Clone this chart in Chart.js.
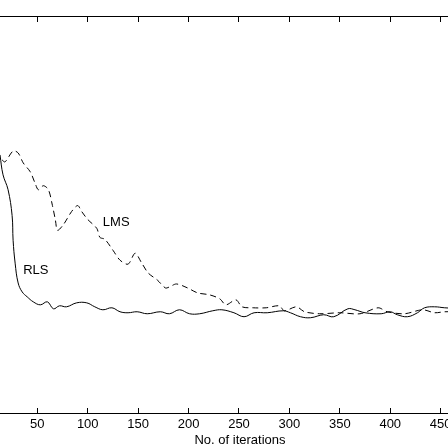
<!DOCTYPE html>
<html>
<head>
<meta charset="utf-8">
<script src="https://cdn.jsdelivr.net/npm/chart.js@4.4.0/dist/chart.umd.min.js"></script>
<style>
    html, body { margin: 0; padding: 0; background: #fff; overflow: hidden; }
    #wrap { width: 448px; height: 448px; overflow: hidden; }
</style>
</head>
<body>
<div id="wrap"><canvas id="chart" width="480" height="448"></canvas></div>
<script>
// ===================================
// Learning curves: RLS vs LMS
// ===================================

const tickVals = [50, 100, 150, 200, 250, 300, 350, 400, 450];

// RLS (solid) - iteration and error value
const rlsIter = [13, 16, 21, 25, 26, 28, 31, 35, 40, 46, 53, 60, 66, 72, 79, 89, 99, 107, 115, 124,
    132, 140, 149, 159, 172, 181, 191, 201, 211, 224, 233, 245, 255, 265, 278, 294, 301, 311, 321, 334,
    344, 358, 365, 375, 391, 400, 407, 417, 427, 434, 444, 454, 490];
const rlsMse = [26.0, 24.0, 22.5, 19.9, 17.4, 15.1, 13.1, 12.2, 11.7, 11.2, 10.9, 11.2, 10.5, 10.8, 10.7, 11.1, 11.1, 10.7, 10.4, 10.6,
    10.2, 10.1, 10.2, 10.0, 10.2, 10.0, 10.4, 10.0, 10.0, 10.3, 10.4, 10.1, 9.7, 10.1, 10.1, 10.3, 10.1, 9.7, 9.6, 9.9,
    9.7, 10.5, 10.4, 10.1, 10.0, 10.2, 9.9, 9.7, 10.1, 10.6, 10.7, 10.6, 10.4];

// LMS (dashed)
const lmsIter = [15, 18, 26, 31, 36, 43, 48, 51, 56, 61, 65, 68, 70, 76, 84, 90, 94, 100, 109, 112,
    117, 125, 132, 140, 147, 153, 160, 169, 177, 181, 188, 199, 209, 221, 231, 237, 247, 253, 264, 277,
    290, 295, 307, 315, 330, 350, 370, 388, 397, 414, 432, 444, 454, 490];
const lmsMse = [25.5, 25.3, 26.4, 26.2, 25.2, 24.3, 23.1, 22.5, 22.9, 22.5, 20.9, 19.4, 18.4, 19.0, 20.3, 20.9, 20.3, 19.5, 18.6, 17.7,
    17.5, 16.4, 15.4, 15.0, 16.1, 15.2, 14.1, 13.4, 12.6, 12.7, 13.0, 12.6, 12.1, 11.9, 11.5, 10.9, 11.4, 10.7, 10.6, 10.6,
    10.8, 10.3, 10.7, 10.2, 10.0, 10.1, 10.0, 10.6, 10.2, 10.0, 10.4, 10.1, 10.2, 10.2];

// curve labels: [text, iteration, value]
const curveLabels = [['LMS', 115, 19.2], ['RLS', 36, 14.4]];

const toPoints = (xs, ys) => xs.map((x, i) => ({ x: x, y: ys[i] }));

const FONT = 'Liberation Sans, Arial, Helvetica, sans-serif';

const labelPlugin = {
    id: 'curveLabels',
    afterDatasetsDraw(chart) {
        const ctx = chart.ctx;
        const xs = chart.scales.x;
        const ys = chart.scales.y;
        ctx.save();
        ctx.fillStyle = '#000';
        ctx.font = '13px ' + FONT;
        ctx.textAlign = 'left';
        ctx.textBaseline = 'middle';
        curveLabels.forEach(([txt, it, v]) => {
            ctx.fillText(txt, xs.getPixelForValue(it), ys.getPixelForValue(v));
        });
        ctx.restore();
    }
};

const keepTicks = scale => {
    scale.ticks = tickVals.map(v => ({ value: v }));
};

new Chart(document.getElementById('chart'), {
    type: 'line',
    data: {
        datasets: [{
            label: 'RLS',
            data: toPoints(rlsIter, rlsMse),
            borderColor: '#000',
            borderWidth: 1,
            pointRadius: 0,
            tension: 0.4,
            fill: false
        }, {
            label: 'LMS',
            data: toPoints(lmsIter, lmsMse),
            borderColor: '#000',
            borderWidth: 1,
            borderDash: [6, 4],
            pointRadius: 0,
            tension: 0.3,
            fill: false
        }]
    },
    options: {
        responsive: false,
        animation: false,
        devicePixelRatio: 1,
        layout: { padding: { top: 16, left: 0, right: 0, bottom: 0 } },
        plugins: {
            legend: { display: false },
            tooltip: { enabled: false }
        },
        scales: {
            x: {
                type: 'linear',
                position: 'bottom',
                min: 13,
                max: 489,
                afterBuildTicks: keepTicks,
                afterFit(scale) {
                    scale.height = 35;
                    scale.paddingLeft = 0;
                    scale.paddingRight = 0;
                },
                grid: {
                    drawOnChartArea: false,
                    drawTicks: true,
                    tickLength: -5,
                    color: '#000',
                    lineWidth: 1
                },
                border: { display: true, color: '#000', width: 1 },
                ticks: {
                    color: '#000',
                    padding: 9,
                    maxRotation: 0,
                    autoSkip: false,
                    font: { family: FONT, size: 13 }
                },
                title: {
                    display: true,
                    text: 'No. of iterations',
                    color: '#000',
                    padding: 0,
                    font: { family: FONT, size: 13 }
                }
            },
            x2: {
                type: 'linear',
                position: 'top',
                min: 13,
                max: 489,
                afterBuildTicks: keepTicks,
                afterFit(scale) {
                    scale.height = 0;
                    scale.paddingLeft = 0;
                    scale.paddingRight = 0;
                },
                grid: {
                    drawOnChartArea: false,
                    drawTicks: true,
                    tickLength: -6,
                    color: '#000',
                    lineWidth: 1
                },
                border: { display: true, color: '#000', width: 1 },
                ticks: { display: false }
            },
            y: {
                display: false,
                min: 0,
                max: 40
            }
        }
    },
    plugins: [labelPlugin]
});
</script>
</body>
</html>
